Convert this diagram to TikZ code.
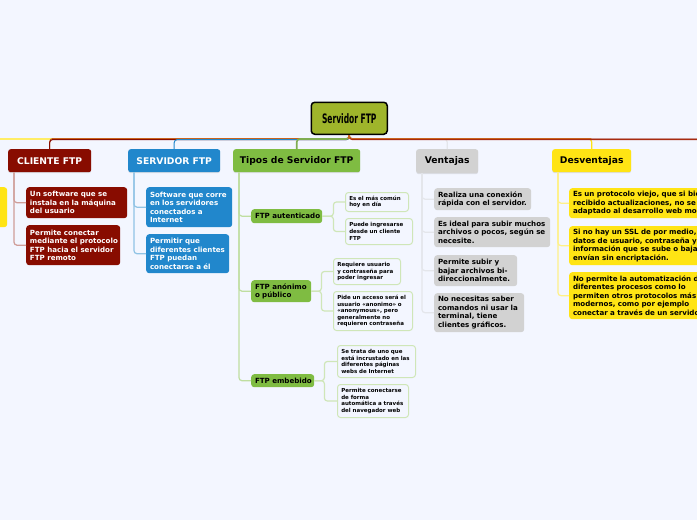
\documentclass[tikz,border=0pt]{standalone}
\usepackage{fontspec}
\setmainfont{DejaVu Sans}
\newfontfamily\titlefont[FakeStretch=0.58]{DejaVu Sans}
\usetikzlibrary{positioning,shadows}
\definecolor{bgcol}{HTML}{F3F6FF}
\definecolor{rootcol}{HTML}{9FB52B}
\definecolor{redcol}{HTML}{880C00}
\definecolor{bluecol}{HTML}{2187CC}
\definecolor{greencol}{HTML}{7FBC42}
\definecolor{graycol}{HTML}{D2D2D2}
\definecolor{yellowcol}{HTML}{FFE414}
\definecolor{trunkcol}{HTML}{C8641E}
\definecolor{trunkred}{HTML}{A82A10}
\colorlet{greenline}{greencol!50!white}
\colorlet{redline}{redcol!40!white}
\colorlet{blueline}{bluecol!50!white}
\colorlet{grayline}{graycol!45!bgcol}
\colorlet{yellowline}{yellowcol!50!white}
\tikzset{
  topic/.style n args={2}{anchor=north west, rounded corners=2.5pt, inner sep=0pt, align=center,
    minimum width=#1pt, minimum height=#2pt, font=\bfseries\fontsize{9.2}{11}\selectfont,
    drop shadow={shadow xshift=0pt, shadow yshift=-1pt, opacity=.2}},
  sub/.style n args={2}{anchor=north west, rounded corners=3pt, inner sep=0pt, align=left,
    text width=#1pt, minimum height=#2pt, font=\bfseries\fontsize{7.1}{8.5}\selectfont,
    execute at begin node={\leftskip=3.8pt\relax}},
  leaf/.style n args={2}{anchor=north west, rounded corners=3pt, draw=greenline!75!white, line width=1pt, fill=bgcol,
    inner sep=0pt, align=left, text width=#1pt, minimum height=#2pt,
    font=\bfseries\fontsize{5.5}{6.6}\selectfont,
    execute at begin node={\leftskip=3.8pt\relax}},
  link/.style={line width=1.2pt, rounded corners=3pt},
  trunk/.style={line width=1pt, rounded corners=3pt},
}
\begin{document}
\begin{tikzpicture}[x=1pt, y=-1pt]
  \clip (0,0) rectangle (697,520);
  \fill[bgcol] (0,0) rectangle (697,520);
  % main topics
  \node[draw=black, line width=1.5pt, fill=rootcol, anchor=north west, rounded corners=3.5pt, inner sep=0pt,
    minimum width=76pt, minimum height=32pt, font=\titlefont\bfseries\fontsize{13}{15}\selectfont] (root) at (310.5,101.5) {Servidor FTP};
  \node[topic={83}{23}, fill=redcol, text=white] (cliente) at (8,149) {CLIENTE FTP};
  \node[topic={92}{23}, fill=bluecol, text=white] (servidor) at (128,149) {SERVIDOR FTP};
  \node[topic={127}{23}, fill=greencol] (tipos) at (233,149) {Tipos de Servidor FTP};
  \node[topic={62}{24}, fill=graycol] (ventajas) at (416,149) {Ventajas};
  \node[topic={79}{23}, fill=yellowcol] (desventajas) at (552,149) {Desventajas};
  \coordinate (offleft) at (-10,149);
  \coordinate (offright) at (707,149);
  % trunk
  \draw[trunk, yellowcol!65!white, line width=1.6pt] (root.south) -- ++(0,4) -| (offleft);
  \draw[trunk, trunkcol] (root.south) -- ++(0,3.6) -| (cliente.north);
  \draw[trunk, redcol] (root.south) -- ++(0,4.6) -| (cliente.north);
  \draw[trunk, bluecol] (root.south) -- ++(0,4.6) -| (servidor.north);
  \draw[trunk, greencol!75!gray, line width=1.6pt] (root.south) -- ++(0,4) -| (tipos.north);
  \draw[trunk, grayline, line width=1.2pt] (root.south) -- ++(0,4) -| (ventajas.north);
  \draw[trunk, yellowcol, line width=1.2pt] (root.south) -- ++(0,4) -| (desventajas.north);
  \draw[trunk, redcol!45!white] (root.south) -- ++(0,3.6) -| (offright);
  \draw[trunk, trunkcol] (root.south) -- ++(0,3.6) -- ++(242,0);
  \draw[trunk, trunkred] (root.south) -- ++(0,4.6) -| (offright);
  \draw[line width=1.6pt, trunkcol] (root.south) -- ++(0,4);
  % cliente
  \node[sub={101}{31}, fill=redcol, text=white] (cl1) at (26,187) {Un software que se\\instala en la máquina\\del usuario};
  \node[sub={94}{40}, fill=redcol, text=white] (cl2) at (26,225) {Permite conectar\\mediante el protocolo\\FTP hacia el servidor\\FTP remoto};
  \draw[link, redline] ([xshift=6pt]cliente.south west) |- (cl1.west);
  \draw[link, redline] ([xshift=6pt]cliente.south west) |- (cl2.west);
  % servidor
  \node[sub={86}{40}, fill=bluecol, text=white] (se1) at (146,187) {Software que corre\\en los servidores\\conectados a\\Internet};
  \node[sub={83}{39}, fill=bluecol, text=white] (se2) at (146,234) {Permitir que\\diferentes clientes\\FTP puedan\\conectarse a él};
  \draw[link, blueline] ([xshift=6pt]servidor.south west) |- (se1.west);
  \draw[link, blueline] ([xshift=6pt]servidor.south west) |- (se2.west);
  % tipos
  \node[sub={71}{14}, fill=greencol] (auten) at (251,209) {FTP autenticado};
  \node[sub={60}{22}, fill=greencol] (anon) at (251,280) {FTP anónimo\\o público};
  \node[sub={63}{13}, fill=greencol] (embe) at (251,374) {FTP embebido};
  \draw[link, greenline] ([xshift=6pt]tipos.south west) |- (auten.west);
  \draw[link, greenline] ([xshift=6pt]tipos.south west) |- (anon.west);
  \draw[link, greenline] ([xshift=6pt]tipos.south west) |- (embe.west);
  \node[leaf={63}{19}] (au1) at (345,192) {Es el más común\\hoy en día};
  \node[leaf={67}{26}] (au2) at (345,218) {Puede ingresarse\\desde un cliente\\FTP};
  \draw[link, greenline!75!white] (auten.east) -- ++(11,0) |- (au1.west);
  \draw[link, greenline!75!white] (auten.east) -- ++(11,0) |- (au2.west);
  \node[leaf={67}{26}] (an1) at (333,258) {Requiere usuario\\y contraseña para\\poder ingresar};
  \node[leaf={79}{39}] (an2) at (333,291) {Pide un acceso será el\\usuario «anonimo» o\\«anonymous», pero\\generalmente no\\requieren contraseña};
  \draw[link, greenline!75!white] (anon.east) -- ++(10,0) |- (an1.west);
  \draw[link, greenline!75!white] (anon.east) -- ++(10,0) |- (an2.west);
  \node[leaf={78}{32}] (em1) at (337,345) {Se trata de uno que\\está incrustado en las\\diferentes páginas\\webs de Internet};
  \node[leaf={71}{33}] (em2) at (337,384) {Permite conectarse\\de forma\\automática a través\\del navegador web};
  \draw[link, greenline!75!white] (embe.east) -- ++(10,0) |- (em1.west);
  \draw[link, greenline!75!white] (embe.east) -- ++(10,0) |- (em2.west);
  % ventajas
  \node[sub={97}{22}, fill=graycol] (ve1) at (434,188) {Realiza una conexión\\rápida con el servidor.};
  \node[sub={116}{30}, fill=graycol] (ve2) at (434,217) {Es ideal para subir muchos\\archivos o pocos, según se\\necesite.};
  \node[sub={83}{31}, fill=graycol] (ve3) at (434,255) {Permite subir y\\bajar archivos bi-\\direccionalmente.};
  \node[sub={90}{39}, fill=graycol] (ve4) at (434,293) {No necesitas saber\\comandos ni usar la\\terminal, tiene\\clientes gráficos.};
  \draw[link, grayline] ([xshift=6pt]ventajas.south west) |- (ve1.west);
  \draw[link, grayline] ([xshift=6pt]ventajas.south west) |- (ve2.west);
  \draw[link, grayline] ([xshift=6pt]ventajas.south west) |- (ve3.west);
  \draw[link, grayline] ([xshift=6pt]ventajas.south west) |- (ve4.west);
  % desventajas
  \node[sub={160}{30}, fill=yellowcol] (de1) at (569,188) {Es un protocolo viejo, que si bie\\recibido actualizaciones, no se h\\adaptado al desarrollo web mod};
  \node[sub={160}{39}, fill=yellowcol] (de2) at (569,226) {Si no hay un SSL de por medio,\\datos de usuario, contraseña y\\información que se sube o baja\\envían sin encriptación.};
  \node[sub={160}{47}, fill=yellowcol] (de3) at (569,272) {No permite la automatización d\\diferentes procesos como lo\\permiten otros protocolos más\\modernos, como por ejemplo\\conectar a través de un servido};
  \draw[link, yellowline] ([xshift=6pt]desventajas.south west) |- (de1.west);
  \draw[link, yellowline] ([xshift=6pt]desventajas.south west) |- (de2.west);
  \draw[link, yellowline] ([xshift=6pt]desventajas.south west) |- (de3.west);
  % node cut by the left edge
  \node[sub={40}{40}, fill=yellowcol] (yel) at (-33,187) {};
\end{tikzpicture}
\end{document}
